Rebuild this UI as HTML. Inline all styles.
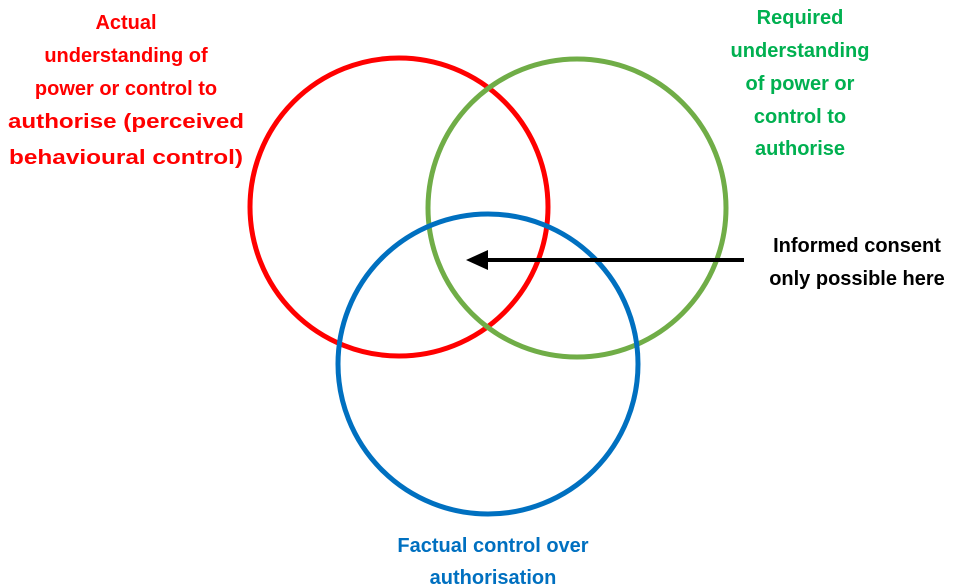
<!DOCTYPE html>
<html><head><meta charset="utf-8"><style>
html,body{margin:0;padding:0;background:#fff;}
svg{display:block;}
text{font-family:"Liberation Sans",Arial,sans-serif;font-weight:bold;font-size:20px;}
</style></head><body>
<svg width="967" height="588" viewBox="0 0 967 588" xmlns="http://www.w3.org/2000/svg">
<circle cx="399" cy="207" r="149" fill="none" stroke="#ff0000" stroke-width="5"/>
<circle cx="577" cy="208" r="149" fill="none" stroke="#70ad47" stroke-width="5"/>
<circle cx="488" cy="364" r="150" fill="none" stroke="#0070c0" stroke-width="5"/>
<line x1="744" y1="260" x2="484" y2="260" stroke="#000" stroke-width="4"/>
<polygon points="466,260 488,250 488,270" fill="#000"/>
<g fill="#ff0000" text-anchor="middle">
<text x="126" y="29">Actual</text>
<text x="126" y="62">understanding of</text>
<text x="126" y="95">power or control to</text>
<text x="126" y="128" textLength="236" lengthAdjust="spacingAndGlyphs">authorise (perceived</text>
<text x="126" y="164" textLength="234" lengthAdjust="spacingAndGlyphs">behavioural control)</text>
</g>
<g fill="#00b050" text-anchor="middle">
<text x="800" y="24">Required</text>
<text x="800" y="57">understanding</text>
<text x="800" y="90">of power or</text>
<text x="800" y="123">control to</text>
<text x="800" y="155">authorise</text>
</g>
<g fill="#000" text-anchor="middle">
<text x="857" y="252">Informed consent</text>
<text x="857" y="285">only possible here</text>
</g>
<g fill="#0070c0" text-anchor="middle">
<text x="493" y="552">Factual control over</text>
<text x="493" y="584">authorisation</text>
</g>
</svg>
</body></html>
